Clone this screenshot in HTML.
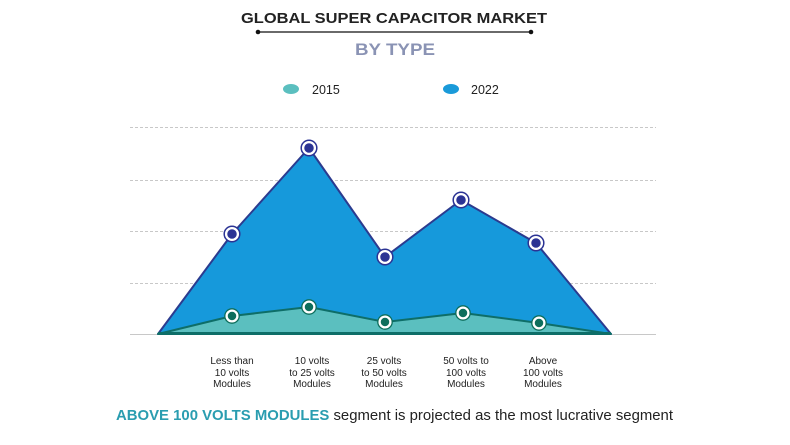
<!DOCTYPE html>
<html><head><style>
body{margin:0;background:#fff;width:790px;height:445px;overflow:hidden;font-family:"Liberation Sans",sans-serif;}
</style></head><body>
<svg width="790" height="445" xmlns="http://www.w3.org/2000/svg" style="position:absolute;left:0;top:0">
<text x="394" y="23" text-anchor="middle" font-family="Liberation Sans" font-weight="bold" font-size="15" fill="#222" textLength="306" lengthAdjust="spacingAndGlyphs">GLOBAL SUPER CAPACITOR MARKET</text>
<line x1="258" y1="32" x2="531" y2="32" stroke="#111" stroke-width="1.2"/>
<circle cx="258" cy="32" r="2.3" fill="#111"/><circle cx="531" cy="32" r="2.3" fill="#111"/>
<text x="395" y="55" text-anchor="middle" font-family="Liberation Sans" font-weight="bold" font-size="17" fill="#8a93b4" textLength="80" lengthAdjust="spacingAndGlyphs">BY TYPE</text>
<ellipse cx="291" cy="89" rx="8" ry="5" fill="#5bbfbf"/>
<text x="312" y="94" font-family="Liberation Sans" font-size="12.5" fill="#222">2015</text>
<ellipse cx="451" cy="89" rx="8" ry="5" fill="#1a9ad9"/>
<text x="471" y="94" font-family="Liberation Sans" font-size="12.5" fill="#222">2022</text>
<g stroke="#c8c8c8" stroke-width="1" stroke-dasharray="3,2">
<line x1="130" y1="127.5" x2="656" y2="127.5"/>
<line x1="130" y1="180.5" x2="656" y2="180.5"/>
<line x1="130" y1="231.5" x2="656" y2="231.5"/>
<line x1="130" y1="283.5" x2="656" y2="283.5"/>
</g>
<line x1="130" y1="334.5" x2="656" y2="334.5" stroke="#c8c8c8"/>
<polygon points="158,334 232,234 309,148 385,257 461,200 536,243 611,334" fill="#1699db" stroke="#2b3b8f" stroke-width="2" stroke-linejoin="round"/>
<polygon points="158,334 232,316 309,307 385,322 463,313 539,323 611,334" fill="#5bbfbf" stroke="#0e6e68" stroke-width="2" stroke-linejoin="round"/>
<line x1="158" y1="333" x2="611" y2="333" stroke="#0e6e68" stroke-width="2"/>
<g fill="#2b3394" stroke="#fff" stroke-width="2.5">
<circle cx="232" cy="234" r="6"/><circle cx="309" cy="148" r="6"/><circle cx="385" cy="257" r="6"/><circle cx="461" cy="200" r="6"/><circle cx="536" cy="243" r="6"/>
</g>
<g fill="none" stroke="#2b3394" stroke-width="1.5">
<circle cx="232" cy="234" r="7.8"/><circle cx="309" cy="148" r="7.8"/><circle cx="385" cy="257" r="7.8"/><circle cx="461" cy="200" r="7.8"/><circle cx="536" cy="243" r="7.8"/>
</g>
<g fill="#0e6e5c" stroke="#fff" stroke-width="2.5">
<circle cx="232" cy="316" r="5.5"/><circle cx="309" cy="307" r="5.5"/><circle cx="385" cy="322" r="5.5"/><circle cx="463" cy="313" r="5.5"/><circle cx="539" cy="323" r="5.5"/>
</g>
<g fill="none" stroke="#0e6e5c" stroke-width="1.3">
<circle cx="232" cy="316" r="7.2"/><circle cx="309" cy="307" r="7.2"/><circle cx="385" cy="322" r="7.2"/><circle cx="463" cy="313" r="7.2"/><circle cx="539" cy="323" r="7.2"/>
</g>
<g font-family="Liberation Sans" font-size="10" fill="#222" text-anchor="middle">
<text x="232" y="364">Less than</text><text x="232" y="376">10 volts</text><text x="232" y="387">Modules</text>
<text x="312" y="364">10 volts</text><text x="312" y="376">to 25 volts</text><text x="312" y="387">Modules</text>
<text x="384" y="364">25 volts</text><text x="384" y="376">to 50 volts</text><text x="384" y="387">Modules</text>
<text x="466" y="364">50 volts to</text><text x="466" y="376">100 volts</text><text x="466" y="387">Modules</text>
<text x="543" y="364">Above</text><text x="543" y="376">100 volts</text><text x="543" y="387">Modules</text>
</g>
<text x="116" y="420" font-family="Liberation Sans" font-size="15" fill="#222" textLength="557" lengthAdjust="spacingAndGlyphs"><tspan font-weight="bold" fill="#2a9db0">ABOVE 100 VOLTS MODULES</tspan> segment is projected as the most lucrative segment</text>
</svg>
</body></html>
